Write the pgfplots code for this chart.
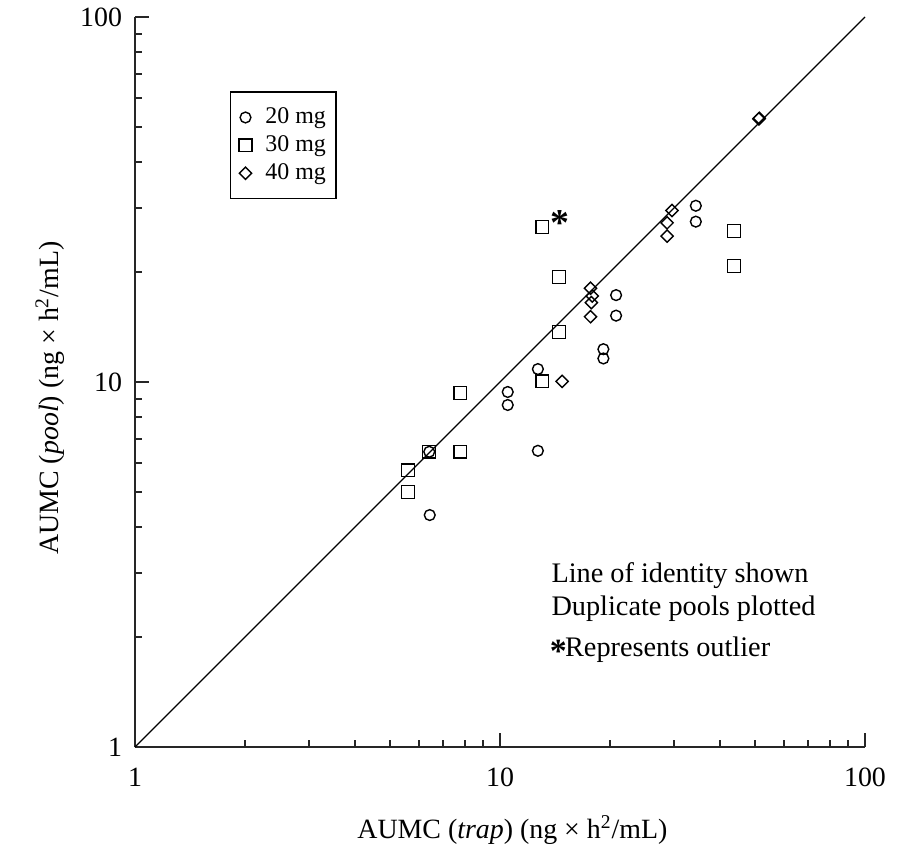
\documentclass[border=0pt]{standalone}
\usepackage{fontspec}
\setmainfont{Liberation Serif}
\usepackage{pgfplots}
\pgfplotsset{compat=1.18}
\begin{document}
\begin{tikzpicture}
\path[use as bounding box] (-67.5bp,-56bp) rectangle (382.5bp,373.5bp);
\begin{axis}[
  at={(0,0)}, anchor=south west,
  width=365bp, height=365bp, scale only axis,
  xmode=log, ymode=log,
  xmin=1, xmax=100, ymin=1, ymax=100,
  axis lines=left,
  axis line style={-, line width=1bp, black!85},
  tick align=inside,
  tick style={line width=1bp, black!85},
  major tick length=7bp, minor tick length=3.5bp,
  xtick={1,10,100}, ytick={1,10,100},
  xticklabels={1,10,100}, yticklabels={1,10,100},
  /pgf/number format/assume math mode=true,
  tick label style={font=\fontsize{14}{17}\selectfont},
  xticklabel style={yshift=-7bp},
  yticklabel style={xshift=-3bp},
  label style={font=\fontsize{14}{17}\selectfont},
  xlabel={AUMC (\textit{trap}) (ng × h\textsuperscript{2}/mL)},
  xlabel style={at={(axis description cs:0.517,-0.114)}, anchor=center},
  ylabel={AUMC (\textit{pool}) (ng × h\textsuperscript{2}/mL)},
  ylabel style={at={(axis description cs:-0.1164,0.478)}, anchor=center},
  clip=false,
  legend style={at={(axis description cs:0.130,0.898)}, anchor=north west,
    draw=black, line width=0.6bp, font=\fontsize{12}{14}\selectfont,
    inner xsep=3bp, inner ysep=6bp, row sep=0.5bp},
  legend image code/.code={\path[draw=none] (0bp,0bp) -- (12.5bp,0bp); \draw[#1] plot coordinates {(4.5bp,0bp)};},
  legend cell align=left,
]
\addplot[only marks, mark=o, mark size=2.7bp, mark options={line width=0.7bp, black}] coordinates {
(34.4,30.4) (34.4,27.5) (20.8,17.3) (20.8,15.2) (19.2,12.3) (19.2,11.6)
(12.7,10.85) (10.5,9.39) (10.5,8.65) (12.7,6.48) (6.40,6.44) (6.42,4.32)
};
\addlegendentry{20 mg}
\addplot[only marks, mark=square, mark size=3.2bp, mark options={line width=0.7bp, black}] coordinates {
(13.06,26.6) (14.5,19.4) (14.5,13.7) (13.06,10.04) (7.79,9.33) (7.79,6.44)
(6.39,6.44) (5.60,5.73) (5.60,5.0) (43.8,25.9) (43.8,20.8)
};
\addlegendentry{30 mg}
\addplot[only marks, mark=square, mark size=2.15bp, mark options={rotate=45, line width=0.7bp, black}] coordinates {
(29.6,29.5) (28.7,27.3) (28.7,25.1) (17.7,18.06) (17.9,17.2) (17.8,16.5)
(17.7,15.1) (14.8,10.04) (51.2,52.6) (51.35,52.8)
};
\addlegendentry{40 mg}
\addplot[forget plot, black, line width=0.65bp, mark=none] coordinates {(1,1) (100,100)};
\addplot[forget plot, only marks, mark=none,
  nodes near coords={\fontsize{19}{19}\selectfont\bfseries *},
  every node near coord/.style={anchor=center, yshift=-3bp}] coordinates {(14.61,28.4)};
\node[anchor=base west, inner sep=0pt, font=\fontsize{14.2}{17}\selectfont] at (axis description cs:0.570,0.2247) {Line of identity shown};
\node[anchor=base west, inner sep=0pt, font=\fontsize{14.2}{17}\selectfont] at (axis description cs:0.570,0.1808) {Duplicate pools plotted};
\node[anchor=base west, inner sep=0pt, font=\fontsize{14.2}{17}\selectfont] at (axis description cs:0.570,0.1233) {\makebox[6.8bp][c]{\raisebox{-3bp}{\fontsize{17}{17}\selectfont\bfseries *}}Represents outlier};
\end{axis}
\end{tikzpicture}
\end{document}
